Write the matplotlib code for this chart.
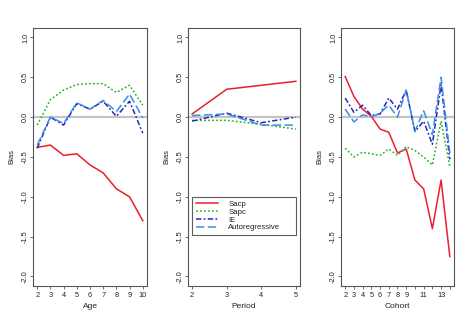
import numpy as np
import matplotlib.pyplot as plt

plt.rcParams['font.family'] = ['Liberation Sans', 'DejaVu Sans']

# ---------------- данные: смещение оценок по трём измерениям ----------------
age = [2, 3, 4, 5, 6, 7, 8, 9, 10]
age_sacp = [-0.38, -0.35, -0.48, -0.46, -0.60, -0.70, -0.90, -1.00, -1.30]
age_sapc = [-0.10, 0.22, 0.34, 0.41, 0.42, 0.42, 0.31, 0.40, 0.15]
age_ie = [-0.39, 0.00, -0.10, 0.17, 0.10, 0.20, 0.01, 0.20, -0.20]
age_ar = [-0.35, 0.00, -0.08, 0.18, 0.10, 0.21, 0.07, 0.29, -0.01]

period = [2, 3, 4, 5]
per_sacp = [0.04, 0.35, 0.40, 0.45]
per_sapc = [-0.04, -0.04, -0.09, -0.15]
per_ie = [-0.05, 0.05, -0.07, 0.00]
per_ar = [0.02, 0.04, -0.10, -0.10]

cohort = [2, 3, 4, 5, 6, 7, 8, 9, 10, 11, 12, 13, 14]
coh_sacp = [0.51, 0.26, 0.10, 0.01, -0.15, -0.19, -0.45, -0.40, -0.79, -0.90, -1.40, -0.79, -1.75]
coh_sapc = [-0.39, -0.50, -0.44, -0.46, -0.48, -0.40, -0.48, -0.37, -0.42, -0.50, -0.60, -0.05, -0.62]
coh_ie = [0.24, 0.06, 0.15, 0.02, 0.04, 0.24, 0.10, 0.34, -0.18, -0.05, -0.34, 0.41, -0.53]
coh_ar = [0.10, -0.06, 0.03, 0.00, 0.05, 0.15, 0.00, 0.34, -0.18, 0.08, -0.22, 0.50, -0.45]

names = ['Sacp', 'Sapc', 'IE', 'Autoregressive']
y_ticks = [1.0, 0.5, 0.0, -0.5, -1.0, -1.5, -2.0]

# стили линий для четырёх методов
STYLES = [
    dict(color='#e8202e', ls='-'),
    dict(color='#27b52a', ls=(0, (1.2, 1.4))),
    dict(color='#2626b8', ls=(0, (3.5, 1.5, 1.2, 1.5))),
    dict(color='#3a8ee8', ls=(0, (5.5, 2.2))),
]
BOX = '#555555'

fig = plt.figure(figsize=(4.74, 3.21), dpi=100)

panels = [
    (age, [age_sacp, age_sapc, age_ie, age_ar], 'Age', age, [str(v) for v in age],
     [0.0696, 0.109, 0.2405, 0.804]),
    (period, [per_sacp, per_sapc, per_ie, per_ar], 'Period', period, [str(v) for v in period],
     [0.3966, 0.109, 0.2363, 0.804]),
    (cohort, [coh_sacp, coh_sapc, coh_ie, coh_ar], 'Cohort', cohort,
     ['2', '3', '4', '5', '6', '7', '8', '9', '', '11', '', '13', ''],
     [0.7194, 0.109, 0.2384, 0.804]),
]

handles = []
for i, (xs, series, xlab, xt, xtl, rect) in enumerate(panels):
    ax = fig.add_axes(rect)
    # горизонтальная линия нулевого смещения
    ax.axhline(0, color='#c4c4c4', lw=1.6, zorder=1)
    for s, st in zip(series, STYLES):
        ln, = ax.plot(xs, s, lw=1.1, zorder=3, **st)
        if i == 0:
            handles.append(ln)
    span = xs[-1] - xs[0]
    ax.set_xlim(xs[0] - 0.04 * span, xs[-1] + 0.04 * span)
    ax.set_ylim(-2.12, 1.12)
    ax.set_xticks(xt)
    ax.set_xticklabels(xtl, fontsize=5.3)
    ax.set_yticks(y_ticks)
    ax.set_yticklabels(['%.1f' % v for v in y_ticks], fontsize=5.3,
                       rotation=90, va='center')
    ax.tick_params(axis='x', length=2.2, width=0.6, color=BOX, pad=2.2,
                   labelcolor='#222222')
    ax.tick_params(axis='y', length=2.0, width=0.6, color=BOX, pad=0.8,
                   labelcolor='#222222')
    for sp in ax.spines.values():
        sp.set_color(BOX)
        sp.set_linewidth(0.8)
    ax.set_xlabel(xlab, fontsize=6, labelpad=2.5, color='#222222')
    ax.set_ylabel('Bias', fontsize=5.5, labelpad=5, color='#222222')
    if i == 1:
        # легенда растянута на ширину прямоугольника
        leg = ax.legend(handles, names, loc='upper left', mode='expand',
                        bbox_to_anchor=(0.036, 0.209, 0.928, 0.136),
                        fontsize=5.6, frameon=True, fancybox=False,
                        handlelength=2.9, handletextpad=1.3,
                        labelspacing=0.05, borderpad=0.45, borderaxespad=0)
        leg.get_frame().set_edgecolor('#333333')
        leg.get_frame().set_linewidth(0.8)
        leg.get_frame().set_boxstyle('Square', pad=0.0)
        for t in leg.get_texts():
            t.set_color('#222222')

fig.savefig('out.png', dpi=100)
